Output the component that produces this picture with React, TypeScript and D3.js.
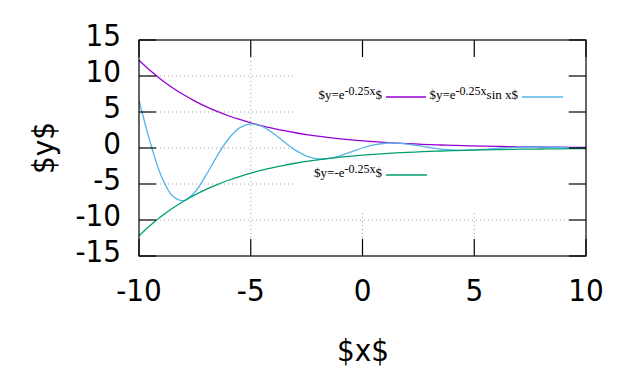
import React from 'react';
import * as d3 from 'd3';

const xs = [
  -10, -9.5, -9, -8.5, -8, -7.5, -7, -6.5, -6, -5.5, -5, -4.5, -4, -3.5, -3, -2.5, -2, -1.5, -1, -0.5,
  0, 0.5, 1, 1.5, 2, 2.5, 3, 3.5, 4, 4.5, 5, 5.5, 6, 6.5, 7, 7.5, 8, 8.5, 9, 9.5, 10,
];
const upper = [
  12.18, 10.75, 9.49, 8.37, 7.39, 6.52, 5.75, 5.08, 4.48, 3.96, 3.49, 3.08, 2.72, 2.4, 2.12, 1.87, 1.65, 1.45, 1.28, 1.13,
  1, 0.88, 0.78, 0.69, 0.61, 0.54, 0.47, 0.42, 0.37, 0.32, 0.29, 0.25, 0.22, 0.2, 0.17, 0.15, 0.14, 0.12, 0.11, 0.09, 0.08,
];
const damped = [
  6.63, 0.81, -3.91, -6.68, -7.31, -6.12, -3.78, -1.09, 1.25, 2.79, 3.35, 3.01, 2.06, 0.84, -0.3, -1.12, -1.5, -1.45, -1.08, -0.54,
  0, 0.42, 0.66, 0.69, 0.55, 0.32, 0.07, -0.15, -0.28, -0.32, -0.28, -0.18, -0.06, 0.04, 0.11, 0.14, 0.14, 0.1, 0.05, 0.01, -0.04,
];
const lower = [
  -12.18, -10.75, -9.49, -8.37, -7.39, -6.52, -5.75, -5.08, -4.48, -3.96, -3.49, -3.08, -2.72, -2.4, -2.12, -1.87, -1.65, -1.45, -1.28, -1.13,
  -1, -0.88, -0.78, -0.69, -0.61, -0.54, -0.47, -0.42, -0.37, -0.32, -0.29, -0.25, -0.22, -0.2, -0.17, -0.15, -0.14, -0.12, -0.11, -0.09, -0.08,
];
const xTicks = [-10, -5, 0, 5, 10];
const yTicks = [15, 10, 5, 0, -5, -10, -15];

const colors = { upper: '#9400d3', damped: '#56b4e9', lower: '#009e73' };

const App = () => {
  const margin = { left: 139, right: 586, top: 40, bottom: 256 };
  const x = d3.scaleLinear().domain([-10, 10]).range([margin.left, margin.right]);
  const y = d3.scaleLinear().domain([-15, 15]).range([margin.bottom, margin.top]);
  const tick = 17;

  const line = d3
    .line<number>()
    .x((_, i) => x(xs[i]))
    .y((d) => y(d))
    .curve(d3.curveCatmullRom);

  const grid = { stroke: '#a0a0a0', strokeWidth: 1, strokeDasharray: '1,3' };
  const tickFont = { fontFamily: '"DejaVu Sans Condensed", Tahoma, sans-serif', fontSize: 31 };
  const keyFont = { fontFamily: '"Liberation Serif", "Times New Roman", serif', fontSize: 13 };

  // legend entry: $y=e^{-0.25x}...$
  const keyText = (prefix: string, tail: string) => (
    <>
      <tspan>{prefix}</tspan>
      <tspan dy={-4} fontSize={12}>-0.25x</tspan>
      <tspan dy={4}>{tail}</tspan>
    </>
  );

  return (
    <svg width={640} height={384} style={{ position: 'absolute', left: 0, top: 0, background: '#fff' }}>
      {/* grid */}
      {yTicks.filter((t) => t > -15 && t < 15).map((t) => (
        <line key={'gy' + t} x1={margin.left + tick} x2={margin.right - tick} y1={y(t)} y2={y(t)} {...grid} />
      ))}
      {xTicks.filter((t) => t > -10 && t < 10).map((t) => (
        <line key={'gx' + t} x1={x(t)} x2={x(t)} y1={margin.top + tick} y2={margin.bottom - tick} {...grid} />
      ))}

      {/* opaque key box */}
      <rect x={295} y={50} width={273} height={162} fill="#fff" />

      {/* curves */}
      <path d={line(upper) || ''} fill="none" stroke={colors.upper} strokeWidth={1.3} />
      <path d={line(damped) || ''} fill="none" stroke={colors.damped} strokeWidth={1.3} />
      <path d={line(lower) || ''} fill="none" stroke={colors.lower} strokeWidth={1.3} />

      {/* border + ticks */}
      <rect
        x={margin.left}
        y={margin.top}
        width={margin.right - margin.left}
        height={margin.bottom - margin.top}
        fill="none"
        stroke="#000"
        strokeWidth={1.2}
      />
      {yTicks.map((t) => (
        <g key={'ty' + t}>
          <line x1={margin.left} x2={margin.left + tick} y1={y(t)} y2={y(t)} stroke="#000" strokeWidth={1.2} />
          <line x1={margin.right - tick} x2={margin.right} y1={y(t)} y2={y(t)} stroke="#000" strokeWidth={1.2} />
          <text x={121} y={y(t) + 5.5} textAnchor="end" {...tickFont}>{t}</text>
        </g>
      ))}
      {xTicks.map((t) => (
        <g key={'tx' + t}>
          <line x1={x(t)} x2={x(t)} y1={margin.top} y2={margin.top + tick} stroke="#000" strokeWidth={1.2} />
          <line x1={x(t)} x2={x(t)} y1={margin.bottom - tick} y2={margin.bottom} stroke="#000" strokeWidth={1.2} />
          <text x={x(t)} y={301} textAnchor="middle" {...tickFont}>{t}</text>
        </g>
      ))}

      {/* axis labels */}
      <text x={363} y={361} textAnchor="middle" {...tickFont}>$x$</text>
      <text transform="translate(54,148) rotate(-90)" textAnchor="middle" {...tickFont}>$y$</text>

      {/* key */}
      <text x={382} y={99} textAnchor="end" {...keyFont}>{keyText('$y=e', '$')}</text>
      <line x1={386} x2={426} y1={97} y2={97} stroke={colors.upper} strokeWidth={1.3} />
      <text x={518} y={99} textAnchor="end" {...keyFont}>{keyText('$y=e', 'sin x$')}</text>
      <line x1={522} x2={563} y1={97} y2={97} stroke={colors.damped} strokeWidth={1.3} />
      <text x={382} y={177} textAnchor="end" {...keyFont}>{keyText('$y=-e', '$')}</text>
      <line x1={386} x2={427} y1={175} y2={175} stroke={colors.lower} strokeWidth={1.3} />
    </svg>
  );
};

export default App;
